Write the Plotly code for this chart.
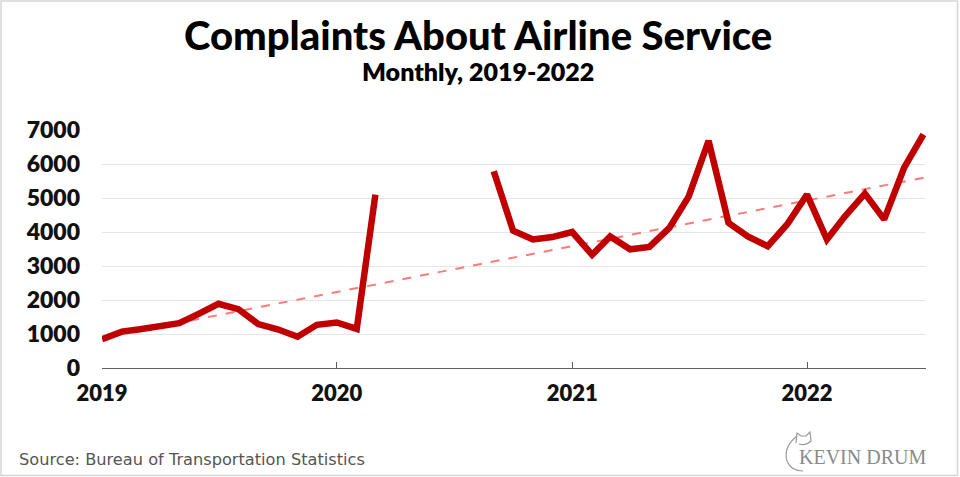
import plotly.graph_objects as go
import pandas as pd

# ---- data ----
months = [d.strftime("%Y-%m-%d") for d in pd.date_range("2019-01-01", "2022-07-01", freq="MS")]
complaints = [
    850, 1070, 1140, 1210, 1320, 1600, 1890, 1730, 1290, 1140, 920, 1270,   # 2019
    1340, 1150, 5100, None, None, None, None, None, 5790, 4040, 3780, 3850,  # 2020
    4000, 3330, 3870, 3490, 3560, 4120, 5040, 6680, 4270, 3870, 3580, 4220,  # 2021
    5100, 3780, 4460, 5130, 4370, 5890, 6870,                                # 2022
]
trend_dates = ["2019-01-01", "2022-07-05"]
trend_values = [890, 5610]
year_ticks = ["2019-01-01", "2020-01-01", "2021-01-01", "2022-01-01"]
year_labels = ["2019", "2020", "2021", "2022"]
y_ticks = [0, 1000, 2000, 3000, 4000, 5000, 6000, 7000]

W, H = 960, 477
L, R, T, B = 102, 34, 130, 109
PW, PH = W - L - R, H - T - B

def px(x):
    return (x - L) / PW

def py(y):
    return (H - B - y) / PH

fig = go.Figure()
fig.add_trace(go.Scatter(
    x=trend_dates, y=trend_values, mode="lines",
    line=dict(color="#ff7b7b", width=2, dash="dash"),
    hoverinfo="skip", showlegend=False,
))
fig.add_trace(go.Scatter(
    x=months, y=complaints, mode="lines",
    line=dict(color="#c00000", width=6.5),
    connectgaps=False, showlegend=False,
))

bold = dict(family="Lato", color="#111111", weight=800)

fig.update_layout(
    width=W, height=H,
    margin=dict(l=L, r=R, t=T, b=B),
    paper_bgcolor="white", plot_bgcolor="white",
    xaxis=dict(
        type="date", range=["2019-01-01", "2022-07-05"],
        tickvals=year_ticks, ticktext=year_labels,
        ticks="inside", ticklen=6, tickcolor="#606060", tickwidth=1,
        showline=True, linecolor="#606060", linewidth=1.2,
        showgrid=False, zeroline=False,
        tickfont=dict(size=22, **bold), ticklabelstandoff=5,
    ),
    yaxis=dict(
        range=[0, 7000], tickvals=y_ticks,
        showgrid=True, gridcolor="#e6e6e6", gridwidth=1,
        zeroline=False, showline=False, ticks="",
        tickfont=dict(size=23, **bold), ticklabelstandoff=21,
    ),
    annotations=[
        dict(text="Complaints About Airline Service", x=px(478), y=py(35),
             xref="paper", yref="paper", xanchor="center", yanchor="middle",
             showarrow=False, font=dict(family="Lato", size=40, color="#000", weight=900)),
        dict(text="Monthly, 2019-2022", x=px(478), y=py(71),
             xref="paper", yref="paper", xanchor="center", yanchor="middle",
             showarrow=False, font=dict(family="Lato", size=25, color="#000", weight=800)),
        dict(text="Source: Bureau of Transportation Statistics", x=px(17), y=py(459),
             xref="paper", yref="paper", xanchor="left", yanchor="middle",
             showarrow=False, font=dict(family="DejaVu Sans", size=16.2, color="#555555")),
        dict(text="KEVIN DRUM", x=px(928), y=py(457),
             xref="paper", yref="paper", xanchor="right", yanchor="middle",
             showarrow=False, font=dict(family="Liberation Serif", size=20, color="#8a8a8a")),
    ],
    shapes=[
        dict(type="rect", xref="paper", yref="paper",
             x0=px(1), x1=px(957.5), y0=py(475.5), y1=py(1),
             line=dict(color="#d6d6d6", width=1.5), fillcolor="rgba(0,0,0,0)", layer="below"),
        dict(type="path", xref="paper", yref="paper",
             path=(f"M {px(797)},{py(436)} Q {px(783)},{py(447)} {px(787)},{py(461)} "
                   f"Q {px(791)},{py(471)} {px(803)},{py(471)}"),
             line=dict(color="#9a9a9a", width=1.2)),
        dict(type="path", xref="paper", yref="paper",
             path=(f"M {px(796)},{py(443)} L {px(797)},{py(433)} L {px(801)},{py(436)} "
                   f"L {px(806)},{py(436)} L {px(810)},{py(432)} L {px(811)},{py(441)} "
                   f"Q {px(806)},{py(446)} {px(799)},{py(444)}"),
             line=dict(color="#9a9a9a", width=1.2)),
    ],
)

fig.write_html("out.html")
